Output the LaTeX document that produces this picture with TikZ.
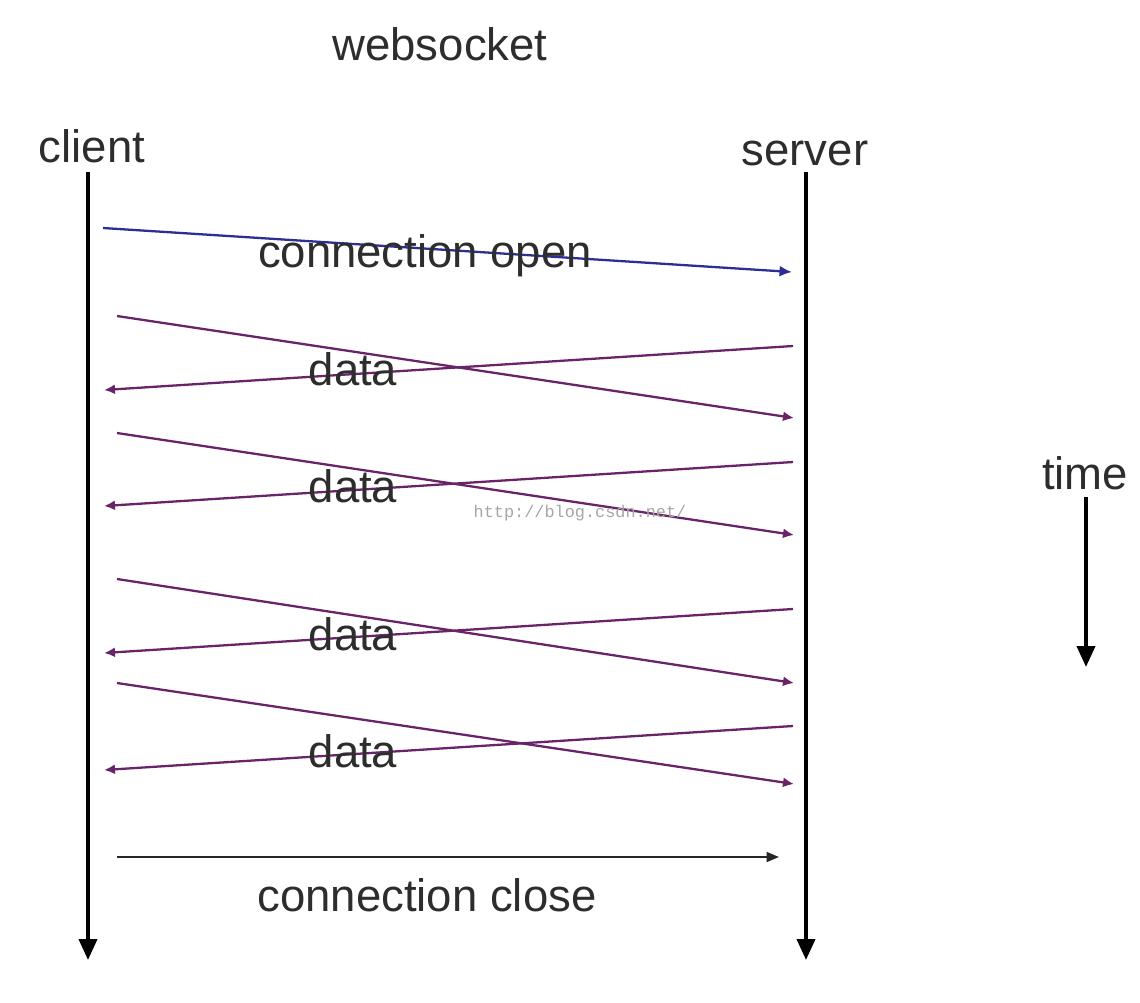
\documentclass[tikz,border=0pt]{standalone}
\usepackage{fontspec}
\setmainfont{Liberation Sans}
\newfontfamily\wmfont{Liberation Mono}
\usetikzlibrary{arrows.meta}
\definecolor{txt}{RGB}{45,45,45}
\definecolor{openblue}{RGB}{45,45,150}
\definecolor{datapurple}{RGB}{105,35,105}
\tikzset{
  lbl/.style={font=\fontsize{25.9}{30}\selectfont, text=txt, anchor=base, inner sep=0pt},
  lifeline/.style={line width=2.2pt, -{Triangle[length=0.42cm,width=0.36cm]}},
  openmsg/.style={line width=1.3pt, draw=openblue, -{Latex[length=0.25cm,width=0.22cm]}},
  datamsg/.style={line width=1.3pt, draw=datapurple, -{Latex[length=0.22cm,width=0.2cm]}},
  closemsg/.style={line width=1.1pt, draw=black!85, -{Triangle[length=0.25cm,width=0.2cm]}},
}
\begin{document}
\begin{tikzpicture}[x=0.02cm,y=-0.02cm]
\useasboundingbox (0,0) rectangle (1140,1002);

% titles
\node[lbl] (title) at (440,60) {websocket};
\node[lbl] (client) at (92,162) {client};
\node[lbl] (server) at (805,165) {server};
\node[lbl] (time) at (1085,489) {time};

% lifelines
\coordinate (ctop) at (88,172);
\coordinate (cbot) at (88,960);
\coordinate (stop) at (806,172);
\coordinate (sbot) at (806,960);
\draw[lifeline] (ctop) -- (cbot);
\draw[lifeline] (stop) -- (sbot);

% time arrow
\coordinate (ttop) at (1086,497);
\coordinate (tbot) at (1086,667);
\draw[lifeline] (ttop) -- (tbot);

% connection open
\coordinate (o1) at (103,228);
\coordinate (o2) at (792,272);
\draw[openmsg] (o1) -- (o2);
\node[lbl] (openlbl) at (425,267) {connection open};

% data exchanges
\foreach \i/\ya/\yb/\yc/\yd/\yl in {1/316/418/346/390/385, 2/433/535/462/506/502, 3/579/683/609/653/650, 4/683/784/726/770/767}{
  \coordinate (da\i) at (117,\ya);
  \coordinate (db\i) at (794,\yb);
  \coordinate (dc\i) at (793,\yc);
  \coordinate (dd\i) at (104,\yd);
  \draw[datamsg] (da\i) -- (db\i);
  \draw[datamsg] (dc\i) -- (dd\i);
  \node[lbl] (data\i) at (353,\yl) {data};
}

% connection close
\coordinate (cl1) at (117,857);
\coordinate (cl2) at (779,857);
\draw[closemsg] (cl1) -- (cl2);
\node[lbl] (closelbl) at (427,911) {connection close};

% watermark
\node[font=\wmfont\fontsize{9.6}{11}\selectfont, text=black!35, anchor=base, inner sep=0pt] (wm) at (580,517) {http://blog.csdn.net/};
\end{tikzpicture}
\end{document}
